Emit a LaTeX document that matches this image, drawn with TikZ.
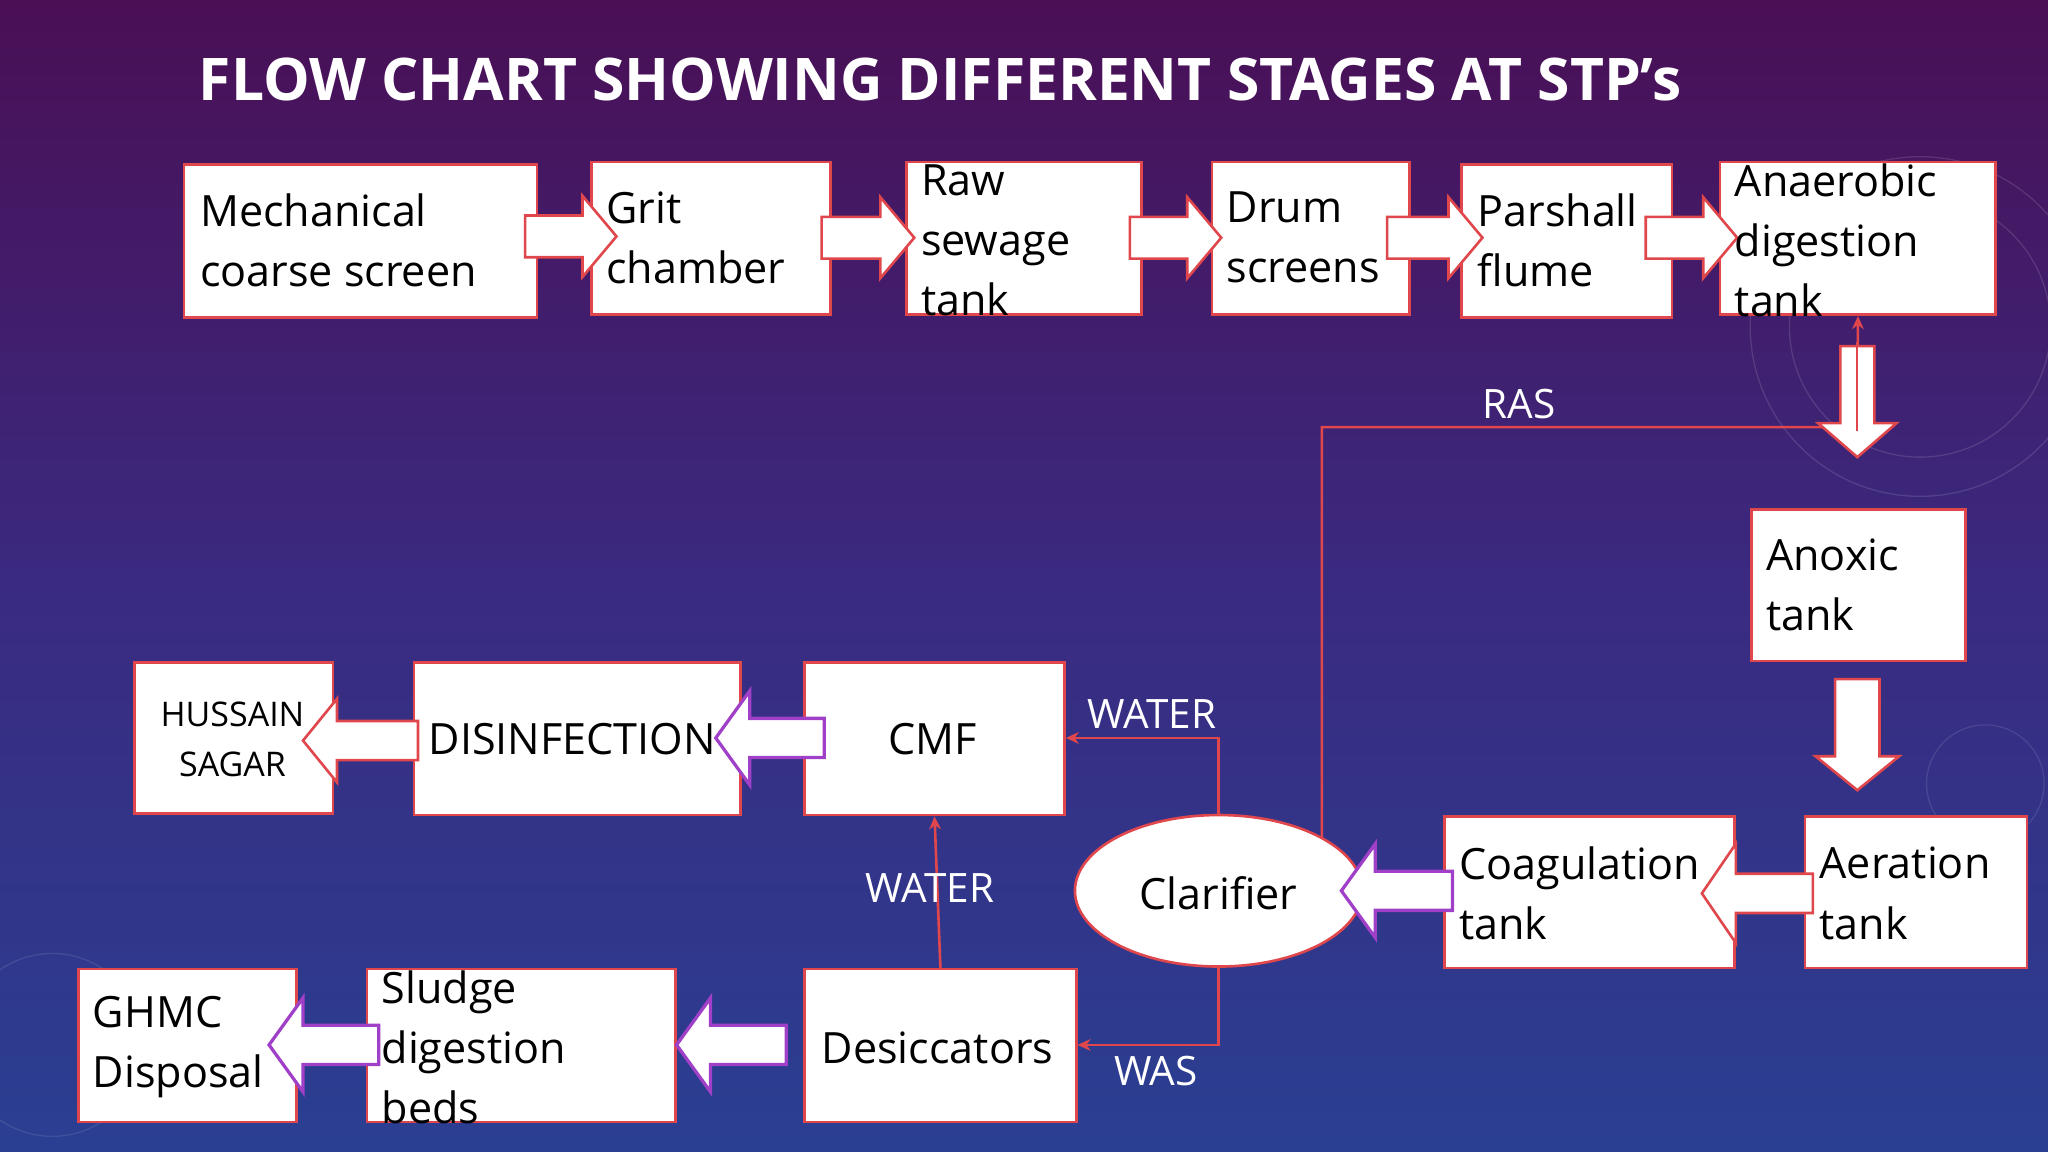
\documentclass[tikz,border=0pt]{standalone}
\usepackage{fontspec}
\setmainfont{Open Sans}
\usetikzlibrary{shapes.geometric,arrows.meta}
\definecolor{rd}{HTML}{E0474C}
\definecolor{pu}{HTML}{A040C8}
\definecolor{bgt}{HTML}{4A0F55}
\definecolor{bgm}{HTML}{3A2A80}
\definecolor{bgb}{HTML}{2A3F92}
\tikzset{
 box/.style={draw=rd,line width=2pt,fill=white,inner sep=0pt},
 txt/.style={font=\fontsize{33}{46}\selectfont,align=left,anchor=west,inner sep=0pt},
 lab/.style={font=\fontsize{31}{36}\selectfont,text=white,inner sep=0pt},
 ln/.style={draw=rd,line width=2pt,-{Stealth[length=10pt,width=9pt]}},
 ba/.style={draw=rd,line width=2pt,fill=white,line join=miter},
 bp/.style={draw=pu,line width=2.5pt,fill=white,line join=miter}
}
\newcommand\harr[6]{%
 \pgfmathsetmacro\xh{#2-((#2>#1)?1:-1)*26}%
 \draw[#6] (#1,#3-#4)--(\xh,#3-#4)--(\xh,#3-#5)--(#2,#3)--(\xh,#3+#5)--(\xh,#3+#4)--(#1,#3+#4)--cycle;}
\newcommand\varr[6]{%
 \pgfmathsetmacro\yh{#2-26}%
 \draw[#6] (#3-#4,#1)--(#3-#4,\yh)--(#3-#5,\yh)--(#3,#2)--(#3+#5,\yh)--(#3+#4,\yh)--(#3+#4,#1)--cycle;}
\begin{document}
\begin{tikzpicture}[x=1pt,y=-1pt]
\shade[top color=bgt,bottom color=bgb,middle color=bgm] (0,0) rectangle (1568,882);
\useasboundingbox (0,0) rectangle (1568,882);
\draw[white,opacity=0.12,line width=1pt] (1470,250) circle (130) (1470,250) circle (100);
\draw[white,opacity=0.1,line width=1pt] (1520,600) circle (45) (40,800) circle (70);
\node[anchor=base west,text=white,font=\bfseries\fontsize{45}{50}\selectfont,inner sep=0pt] (title) at (152,77) {FLOW CHART SHOWING DIFFERENT STAGES AT STP’s};
\node[box,minimum width=270pt,minimum height=117pt,anchor=north west] (b1) at (140,125) {};
\node[box,minimum width=183pt,minimum height=117pt,anchor=north west] (b2) at (452,123) {};
\node[box,minimum width=180pt,minimum height=117pt,anchor=north west] (b3) at (693,123) {};
\node[box,minimum width=151pt,minimum height=117pt,anchor=north west] (b4) at (927,123) {};
\node[box,minimum width=161pt,minimum height=117pt,anchor=north west] (b5) at (1118,125) {};
\node[box,minimum width=211pt,minimum height=117pt,anchor=north west] (b6) at (1316,123) {};
\node[box,minimum width=164pt,minimum height=116pt,anchor=north west] (anox) at (1340,389) {};
\node[box,minimum width=170pt,minimum height=116pt,anchor=north west] (aer) at (1381,624) {};
\node[box,minimum width=222pt,minimum height=116pt,anchor=north west] (coag) at (1105,624) {};
\node[box,ellipse,minimum width=220pt,minimum height=116pt] (clar) at (933,682) {};
\node[box,minimum width=199pt,minimum height=117pt,anchor=north west] (cmf) at (615,506) {};
\node[box,minimum width=250pt,minimum height=117pt,anchor=north west] (dis) at (316,506) {};
\node[box,minimum width=152pt,minimum height=116pt,anchor=north west] (hus) at (102,506) {};
\node[box,minimum width=208pt,minimum height=117pt,anchor=north west] (des) at (615,741) {};
\node[box,minimum width=236pt,minimum height=117pt,anchor=north west] (sdb) at (280,741) {};
\node[box,minimum width=167pt,minimum height=117pt,anchor=north west] (ghmc) at (59,741) {};
\coordinate (r0) at (1012,642);
\draw[ln] (r0) -- (1012,327) -- (1422,327) -- (b6.south);
\node[lab] (ras) at (1163,309) {RAS};
\draw[ln] (clar.north) -- (933,565) -- (cmf.east |- 0,565);
\node[lab] (w1) at (882,547) {WATER};
\draw[ln] (clar.south) -- (933,800) -- (des.east |- 0,800);
\node[lab] (was) at (885,820) {WAS};
\draw[ln] (des.north) -- (cmf.south);
\node[lab] (w2) at (712,680) {WATER};
\harr{402}{472}{181}{16}{31}{ba}
\harr{629}{700}{182}{16}{31}{ba}
\harr{865}{935}{182}{16}{31}{ba}
\harr{1062}{1135}{182}{16}{31}{ba}
\harr{1260}{1330}{182}{16}{31}{ba}
\varr{265}{350}{1422}{13}{30}{ba}
\draw[rd,line width=1.5pt] (1422,262)--(1422,330);
\varr{520}{605}{1422}{17}{32}{ba}
\harr{1388}{1303}{684}{15}{38}{ba}
\harr{1112}{1027}{682}{15}{36}{bp}
\harr{631}{548}{565}{15}{36}{bp}
\harr{320}{232}{567}{15}{32}{ba}
\harr{602}{518}{800}{15}{36}{bp}
\harr{290}{206}{800}{15}{36}{bp}
\node[txt] (t1) at (153,184) {Mechanical\\coarse screen};
\node[txt] (t2) at (464,182) {Grit\\chamber};
\node[txt] (t3) at (705,184) {Raw\\sewage\\tank};
\node[txt] (t4) at (939,182) {Drum\\screens};
\node[txt] (t5) at (1131,184) {Parshall\\flume};
\node[txt] (t6) at (1328,184) {Anaerobic\\digestion\\tank};
\node[txt] (t7) at (1352,448) {Anoxic\\tank};
\node[txt] (t8) at (1393,684) {Aeration\\tank};
\node[txt] (t9) at (1117,684) {Coagulation\\tank};
\node[txt,anchor=center] (t10) at (933,684) {Clarifier};
\node[txt,anchor=center] (t11) at (714,566) {CMF};
\node[txt] (t12) at (328,566) {DISINFECTION};
\node[txt,anchor=center,align=center,font=\fontsize{26}{38}\selectfont] (t13) at (178,566) {HUSSAIN\\SAGAR};
\node[txt] (t14) at (629,802) {Desiccators};
\node[txt] (t15) at (292,802) {Sludge\\digestion\\beds};
\node[txt] (t16) at (71,802) {GHMC\\Disposal};
\end{tikzpicture}
\end{document}
